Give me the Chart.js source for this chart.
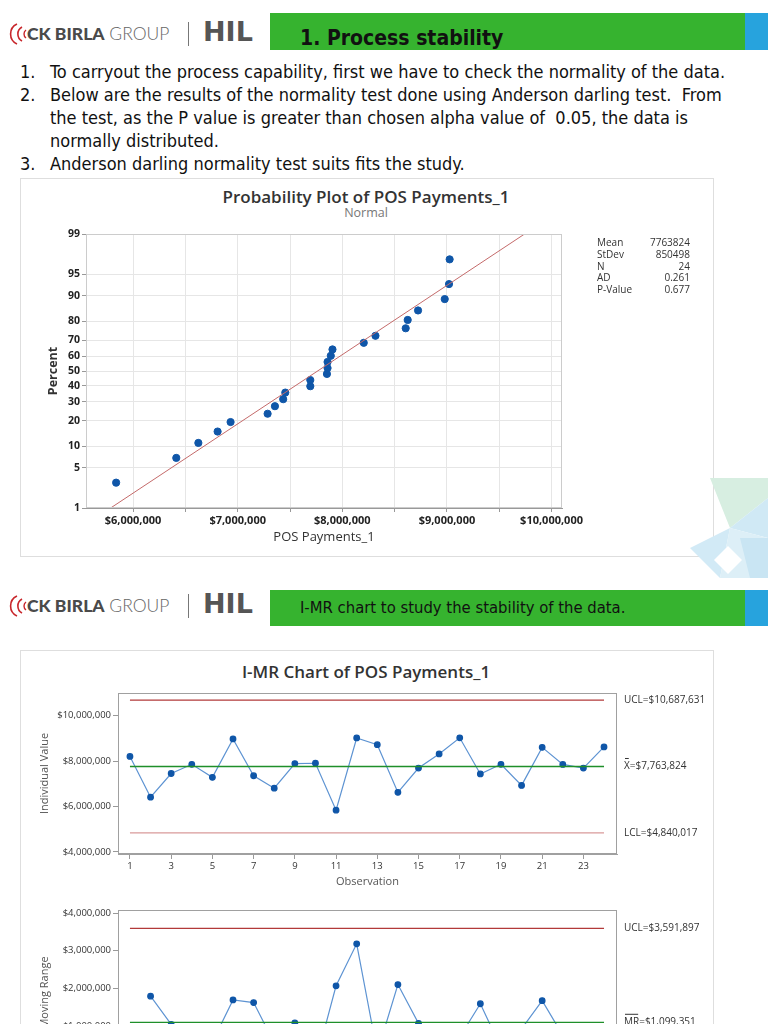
<!DOCTYPE html>
<html>
<head>
<meta charset="utf-8">
<script src="https://cdn.jsdelivr.net/npm/chart.js@4.4.1/dist/chart.umd.min.js"></script>
<style>
  html, body { margin: 0; padding: 0; background: #fff; width: 768px; height: 1024px; overflow: hidden; }
  body { position: relative; font-family: "Liberation Sans Narrow", "DejaVu Sans Condensed", sans-serif; color: #111; }
  .abs { position: absolute; }
  .bar-green { position: absolute; left: 270px; width: 475px; background: #36b32f; }
  .bar-blue { position: absolute; left: 745px; width: 23px; background: #27a3dd; }
  .logo-ck { position: absolute; left: 27px; font-family: Lato, sans-serif; font-size: 17.5px; color: #4a4a4a; white-space: nowrap; }
  .logo-ck b { font-weight: 900; }
  .logo-ck span { font-weight: 300; color: #666; }
  .logo-sep { position: absolute; left: 188px; width: 1px; background: #777; }
  .logo-hil { position: absolute; left: 203px; font-family: "DejaVu Sans", sans-serif; font-weight: bold; font-size: 27px; color: #555; letter-spacing: 0px; }
  .list { position: absolute; left: 20px; top: 60px; width: 720px; font-size: 18px; line-height: 23px; }
  .list div { position: relative; padding-left: 30px; }
  .list div i { position: absolute; left: 0; font-style: normal; }
  .panel { position: absolute; left: 20px; width: 692px; border: 1px solid #dedede; background: #fff; }
  .ctitle { position: absolute; left: 20px; width: 692px; text-align: center; font-family: "Open Sans", sans-serif; color: #333; }
  .stats { position: absolute; left: 597px; top: 237px; width: 93px; font-family: "Open Sans", sans-serif; font-size: 10px; line-height: 11.8px; color: #333; }
  .stats div { display: flex; justify-content: space-between; }
  canvas { position: absolute; }
</style>
</head>
<body>

<!-- slide 1 header -->
<svg class="abs" style="left:8px;top:22px" width="20" height="24">
  <path d="M9 2 A11 11 0 0 0 9 22" fill="none" stroke="#c8262b" stroke-width="1.6"/>
  <path d="M14 5 A8 8 0 0 0 14 19" fill="none" stroke="#c8262b" stroke-width="1.6"/>
  <path d="M18 8 A5 5 0 0 0 18 16" fill="none" stroke="#c8262b" stroke-width="1.4"/>
</svg>
<div class="logo-ck" style="top:23px"><b>CK BIRLA</b><span> GROUP</span></div>
<div class="logo-sep" style="top:22px;height:24px"></div>
<div class="logo-hil" style="top:16px">HIL</div>
<div class="bar-green" style="top:13px;height:37px"></div>
<div class="bar-blue" style="top:13px;height:37px"></div>
<div class="abs" style="left:300px;top:26px;font-size:21px;font-weight:bold;">1. Process stability</div>

<div class="list">
  <div><i>1.</i>To carryout the process capability, first we have to check the normality of the data.</div>
  <div><i>2.</i>Below are the results of the normality test done using Anderson darling test.&nbsp; From the test, as the P value is greater than chosen alpha value of&nbsp; 0.05, the data is normally distributed.</div>
  <div><i>3.</i>Anderson darling normality test suits fits the study.</div>
</div>

<div class="panel" style="top:178px;height:377px"></div>
<div class="ctitle" style="top:185px;font-size:17px;font-weight:600;">Probability Plot of POS Payments_1</div>
<div class="ctitle" style="top:204px;font-size:12.5px;color:#777;">Normal</div>
<canvas id="probChart" style="left:20px;top:180px"></canvas>
<div class="stats">
  <div><span>Mean</span><span>7763824</span></div>
  <div><span>StDev</span><span>850498</span></div>
  <div><span>N</span><span>24</span></div>
  <div><span>AD</span><span>0.261</span></div>
  <div><span>P-Value</span><span>0.677</span></div>
</div>

<svg class="abs" style="left:690px;top:478px" width="78" height="100">
  <polygon points="20,0 78,0 78,20 40,50" fill="#d7eee1"/>
  <polygon points="40,50 78,20 78,60" fill="#d0e9f5"/>
  <polygon points="0,70 40,50 30,100" fill="#d2eaf6"/>
  <polygon points="40,50 78,60 60,100 30,100" fill="#ddeff7"/>
  <polygon points="24,82 38,68 52,82 38,96" fill="#ffffff"/>
  <polygon points="50,60 78,60 78,100 60,100" fill="#c9e5f3"/>
</svg>

<!-- slide 2 header -->
<svg class="abs" style="left:8px;top:594px" width="20" height="24">
  <path d="M9 2 A11 11 0 0 0 9 22" fill="none" stroke="#c8262b" stroke-width="1.6"/>
  <path d="M14 5 A8 8 0 0 0 14 19" fill="none" stroke="#c8262b" stroke-width="1.6"/>
  <path d="M18 8 A5 5 0 0 0 18 16" fill="none" stroke="#c8262b" stroke-width="1.4"/>
</svg>
<div class="logo-ck" style="top:595px"><b>CK BIRLA</b><span> GROUP</span></div>
<div class="logo-sep" style="top:594px;height:24px"></div>
<div class="logo-hil" style="top:588px">HIL</div>
<div class="bar-green" style="top:590px;height:36px"></div>
<div class="bar-blue" style="top:590px;height:36px"></div>
<div class="abs" style="left:300px;top:598px;font-size:16.5px;">I-MR chart to study the stability of the data.</div>

<div class="panel" style="top:650px;height:420px"></div>
<div class="ctitle" style="top:660px;font-size:17px;font-weight:600;">I-MR Chart of POS Payments_1</div>
<canvas id="iChart" style="left:20px;top:680px"></canvas>
<canvas id="mrChart" style="left:20px;top:895px"></canvas>

<script>
// ---------- Data ----------
// Probability plot: sorted observations and plotting positions (%)
const POS_SORTED = [5838000, 6413000, 6624000, 6808000, 6932000, 7286000, 7356000, 7435000,
  7455000, 7694000, 7694000, 7853000, 7859000, 7859000, 7890000, 7906000,
  8205000, 8317000, 8606000, 8625000, 8724000, 8979000, 9020000, 9026000];
const POS_PCT = [2.9, 7.0, 11.1, 15.2, 19.3, 23.4, 27.5, 31.6, 35.7, 39.8, 43.9, 48.0,
  52.0, 56.1, 60.2, 64.3, 68.4, 72.5, 76.6, 80.7, 84.8, 88.9, 93.0, 97.1];
const PCT_TICKS = [1, 5, 10, 20, 30, 40, 50, 60, 70, 80, 90, 95, 99];
const PROB_X_TICKS = [6000000, 6500000, 7000000, 7500000, 8000000, 8500000, 9000000, 9500000, 10000000];
const MEAN = 7763824;
const STDEV = 850498;

// I-MR chart
const OBS = [1, 2, 3, 4, 5, 6, 7, 8, 9, 10, 11, 12, 13, 14, 15, 16, 17, 18, 19, 20, 21, 22, 23, 24];
const INDIVIDUAL = [8205000, 6413000, 7455000, 7859000, 7286000, 8979000, 7356000, 6808000,
  7890000, 7906000, 5838000, 9020000, 8724000, 6624000, 7694000, 8317000,
  9026000, 7435000, 7859000, 6932000, 8606000, 7853000, 7694000, 8625000];
const MR_OBS = [2, 3, 4, 5, 6, 7, 8, 9, 10, 11, 12, 13, 14, 15, 16, 17, 18, 19, 20, 21, 22, 23, 24];
const MOVING_RANGE = [1792000, 1042000, 404000, 573000, 1693000, 1623000, 548000, 1082000,
  16000, 2068000, 3182000, 296000, 2100000, 1070000, 623000, 709000,
  1591000, 424000, 927000, 1674000, 753000, 159000, 931000];
const OBS_TICKS = [1, 3, 5, 7, 9, 11, 13, 15, 17, 19, 21, 23];
const I_TICKS = [4000000, 6000000, 8000000, 10000000];
const MR_TICKS = [0, 1000000, 2000000, 3000000, 4000000];
const I_UCL = 10687631, I_CL = 7763824, I_LCL = 4840017;
const MR_UCL = 3591897, MR_CL = 1099351;

// ---------- Helpers ----------
// inverse standard normal (Acklam), used for the probability axis
function zOf(p) {
  const a = [-39.69683028665376, 220.9460984245205, -275.9285104469687, 138.3577518672690, -30.66479806614716, 2.506628277459239];
  const b = [-54.47609879822406, 161.5858368580409, -155.6989798598866, 66.80131188771972, -13.28068155288572];
  const c = [-0.007784894002430293, -0.3223964580411365, -2.400758277161838, -2.549671010115819, 4.374664141464968, 2.938163982698783];
  const d = [0.007784695709041462, 0.3224671290700398, 2.445134137142996, 3.754408661907416];
  const pl = 0.02425;
  if (p < pl) {
    const q = Math.sqrt(-2 * Math.log(p));
    return (((((c[0] * q + c[1]) * q + c[2]) * q + c[3]) * q + c[4]) * q + c[5]) / ((((d[0] * q + d[1]) * q + d[2]) * q + d[3]) * q + 1);
  }
  if (p > 1 - pl) return -zOf(1 - p);
  const q = p - 0.5, r = q * q;
  return (((((a[0] * r + a[1]) * r + a[2]) * r + a[3]) * r + a[4]) * r + a[5]) * q /
    (((((b[0] * r + b[1]) * r + b[2]) * r + b[3]) * r + b[4]) * r + 1);
}
const money = (v) => "$" + Math.round(v).toLocaleString("en-US");
const setTicks = (vals) => (scale) => { scale.ticks = vals.map((v) => ({ value: v })); };

// frame around the plot + control limit labels on the right
const framePlugin = {
  id: "frame",
  afterDraw(chart, args, opts) {
    const { ctx, chartArea: a } = chart;
    ctx.save();
    ctx.strokeStyle = opts.color;
    ctx.lineWidth = 1;
    ctx.strokeRect(Math.round(a.left) + 0.5, Math.round(a.top) + 0.5, Math.round(a.width) - 1, Math.round(a.height) - 1);
    ctx.font = "10px 'Open Sans', sans-serif";
    ctx.fillStyle = "#333";
    ctx.textBaseline = "middle";
    (opts.labels || []).forEach((l) => {
      const y = chart.scales.y.getPixelForValue(l.value);
      const x = a.right + 7;
      ctx.fillText(l.bar + l.rest + money(l.value), x, y);
      if (l.over) {
        const w = ctx.measureText(l.bar).width;
        ctx.beginPath();
        ctx.moveTo(x + 1, y - 8);
        ctx.lineTo(x + w - 1, y - 8);
        ctx.strokeStyle = "#333";
        ctx.stroke();
      }
    });
    ctx.restore();
  },
};

Chart.defaults.font.family = "'Open Sans', sans-serif";
Chart.defaults.animation = false;

// ---------- Probability plot ----------
const zLo = zOf(PCT_TICKS[0] / 100), zHi = zOf(PCT_TICKS[PCT_TICKS.length - 1] / 100);
const probCanvas = document.getElementById("probChart");
probCanvas.width = 692; probCanvas.height = 375;
new Chart(probCanvas, {
  type: "scatter",
  data: {
    datasets: [
      {
        type: "line",
        data: [{ x: MEAN + zLo * STDEV, y: zLo }, { x: MEAN + zHi * STDEV, y: zHi }],
        borderColor: "#c46a6a",
        borderWidth: 1,
        pointRadius: 0,
      },
      {
        data: POS_SORTED.map((v, i) => ({ x: v, y: zOf(POS_PCT[i] / 100) })),
        backgroundColor: "#0f56a8",
        borderColor: "#0f56a8",
        pointRadius: 3.6,
        pointStyle: "circle",
      },
    ],
  },
  options: {
    responsive: false,
    layout: { padding: { top: 54, right: 150, left: 0, bottom: 0 } },
    plugins: { legend: { display: false }, tooltip: { enabled: false }, frame: { color: "#cccccc" } },
    scales: {
      x: {
        type: "linear",
        min: 5550000,
        max: 10100000,
        afterBuildTicks: setTicks(PROB_X_TICKS),
        afterFit: (s) => { s.height = 47; },
        ticks: {
          autoSkip: false, maxRotation: 0, padding: 2, color: "#222",
          font: { size: 11, weight: "bold" },
          callback: (v) => (v % 1000000 === 0 ? money(v) : ""),
        },
        grid: { color: "#e6e6e6", tickColor: "#999", tickLength: 4 },
        border: { color: "#999" },
        title: { display: true, text: "POS Payments_1", color: "#333", font: { size: 13 }, padding: { top: 2, bottom: 10 } },
      },
      y: {
        type: "linear",
        min: zLo,
        max: zHi,
        afterBuildTicks: setTicks(PCT_TICKS.map((p) => zOf(p / 100))),
        afterFit: (s) => { s.width = 66; },
        ticks: {
          autoSkip: false, padding: 2, color: "#222",
          font: { size: 10.5, weight: "bold" },
          callback: (v, i) => PCT_TICKS[i],
        },
        grid: { color: "#e6e6e6", tickColor: "#999", tickLength: 4 },
        border: { color: "#999" },
        title: { display: true, text: "Percent", color: "#333", font: { size: 12.5, weight: "bold" }, padding: { top: 26, bottom: 0 } },
      },
    },
  },
  plugins: [framePlugin],
});

// ---------- I-MR charts ----------
function controlChart(id, xs, ys, yMin, yMax, yTicks, yTitle, xTitle, limits, xHeight, padTop) {
  const el = document.getElementById(id);
  el.width = 692; el.height = 215;
  const limitLine = (value, color) => ({
    type: "line",
    data: [{ x: 1, y: value }, { x: 24, y: value }],
    borderColor: color,
    borderWidth: 1.3,
    pointRadius: 0,
  });
  return new Chart(el, {
    type: "line",
    data: {
      datasets: [
        ...limits.map((l) => limitLine(l.value, l.color)),
        {
          data: xs.map((x, i) => ({ x, y: ys[i] })),
          borderColor: "#5d93d2",
          borderWidth: 1.2,
          backgroundColor: "#0f56a8",
          pointBorderColor: "#0f56a8",
          pointRadius: 2.8,
          tension: 0,
        },
      ],
    },
    options: {
      responsive: false,
      layout: { padding: { top: padTop, right: 95, left: 0, bottom: 0 } },
      plugins: {
        legend: { display: false },
        tooltip: { enabled: false },
        frame: { color: "#a0a0a0", labels: limits },
      },
      scales: {
        x: {
          type: "linear",
          min: 0.42,
          max: 24.63,
          afterBuildTicks: setTicks(OBS_TICKS),
          afterFit: (s) => { s.height = xHeight; },
          ticks: { autoSkip: false, maxRotation: 0, padding: 2, color: "#333", font: { size: 9.5 } },
          grid: { drawOnChartArea: false, tickColor: "#999", tickLength: 5 },
          border: { color: "#a0a0a0" },
          title: { display: !!xTitle, text: xTitle, color: "#555", font: { size: 11 }, padding: { top: 1, bottom: 7 } },
        },
        y: {
          type: "linear",
          min: yMin,
          max: yMax,
          afterBuildTicks: setTicks(yTicks),
          afterFit: (s) => { s.width = 98; },
          ticks: { autoSkip: false, padding: 2, color: "#333", font: { size: 9.5 }, callback: (v) => money(v) },
          grid: { drawOnChartArea: false, tickColor: "#999", tickLength: 5 },
          border: { color: "#a0a0a0" },
          title: { display: true, text: yTitle, color: "#555", font: { size: 11 }, padding: { top: 18, bottom: 0 } },
        },
      },
    },
    plugins: [framePlugin],
  });
}

controlChart("iChart", OBS, INDIVIDUAL, 3910000, 11000000, I_TICKS, "Individual Value", "Observation", [
  { value: I_UCL, color: "#b23a3a", bar: "UCL", rest: "=", over: false },
  { value: I_CL, color: "#1f8f2a", bar: "X", rest: "=", over: true },
  { value: I_LCL, color: "#d99a9a", bar: "LCL", rest: "=", over: false },
], 41, 13);

controlChart("mrChart", MR_OBS, MOVING_RANGE, -300000, 4080000, MR_TICKS, "Moving Range", "Observation", [
  { value: MR_UCL, color: "#b23a3a", bar: "UCL", rest: "=", over: false },
  { value: MR_CL, color: "#1f8f2a", bar: "MR", rest: "=", over: true },
], 35, 15);
</script>
</body>
</html>
